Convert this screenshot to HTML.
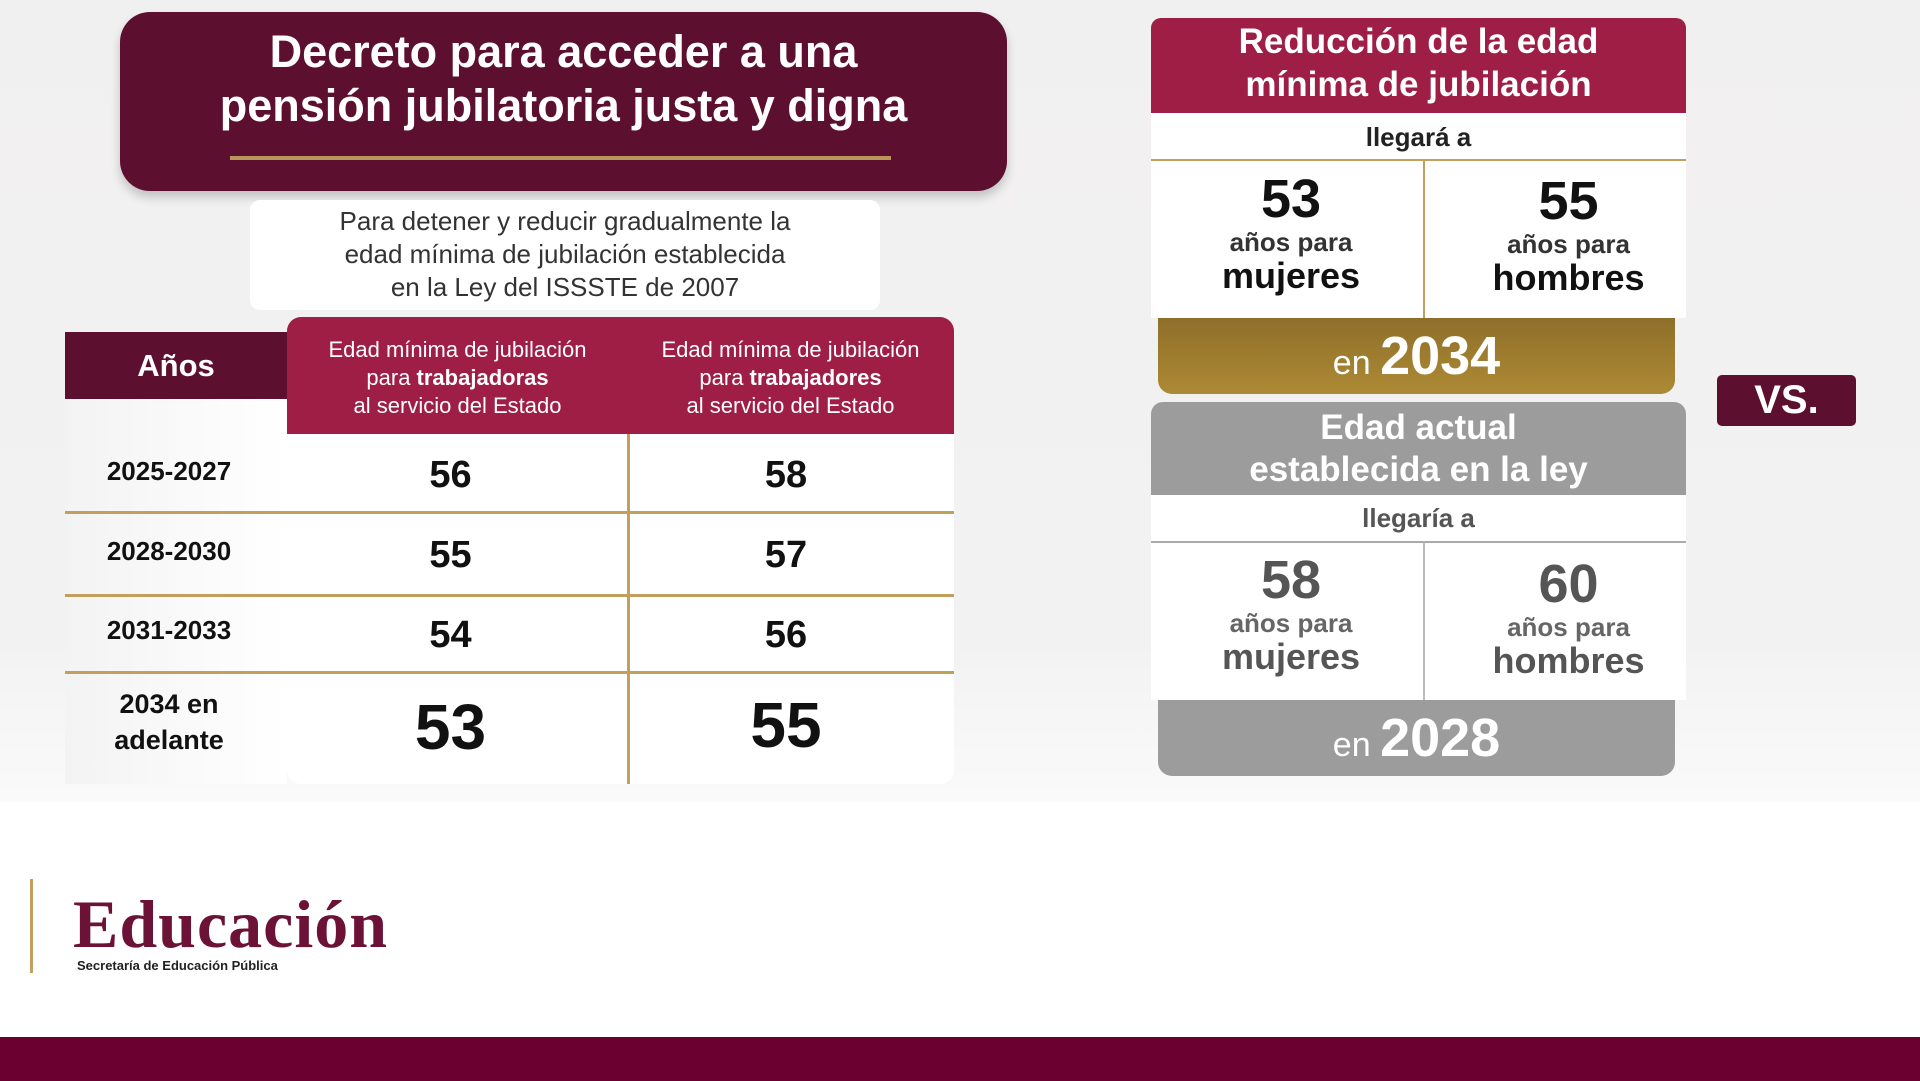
<!DOCTYPE html>
<html><head><meta charset="utf-8"><style>
*{margin:0;padding:0;box-sizing:border-box}
body{width:1920px;height:1081px;overflow:hidden;background:#fff;font-family:"Liberation Sans",sans-serif;position:relative}
.a{position:absolute}
.c{text-align:center}
.bg{left:0;top:0;width:1920px;height:802px;background:linear-gradient(#f1f0f0,#f3f2f2 80%,#fafafa)}
</style></head><body>
<div class="a bg"></div>
<div class="a" style="left:120px;top:12px;width:887px;height:179px;background:#5c0f2e;border-radius:30px;box-shadow:0 6px 10px rgba(0,0,0,.2)"></div>
<div class="a c" style="left:120px;top:25px;width:887px;color:#fff;font-weight:bold;font-size:45px;line-height:54px">Decreto para acceder a una<br>pensión jubilatoria justa y digna</div>
<div class="a" style="left:230px;top:156px;width:661px;height:4px;background:#b8955a"></div>
<div class="a" style="left:250px;top:200px;width:630px;height:110px;background:#fff;border-radius:10px"></div>
<div class="a c" style="left:250px;top:205px;width:630px;color:#333;font-size:26px;line-height:33px">Para detener y reducir gradualmente la<br>edad mínima de jubilación establecida<br>en la Ley del ISSSTE de 2007</div>
<div class="a" style="left:65px;top:399px;width:222px;height:385px;background:linear-gradient(90deg,#f3f3f3,#fff)"></div>
<div class="a" style="left:287px;top:434px;width:667px;height:350px;background:#fff;border-radius:0 0 14px 14px"></div>
<div class="a c" style="left:65px;top:332px;width:222px;height:67px;background:#5c0f2e;color:#fff;font-weight:bold;font-size:31px;line-height:67px">Años</div>
<div class="a" style="left:287px;top:317px;width:667px;height:117px;background:#9e1e46;border-radius:14px 14px 0 0"></div>
<div class="a c" style="left:287px;top:336px;width:341px;color:#fff;font-size:22px;line-height:28px">Edad mínima de jubilación<br>para <b>trabajadoras</b><br>al servicio del Estado</div>
<div class="a c" style="left:620px;top:336px;width:341px;color:#fff;font-size:22px;line-height:28px">Edad mínima de jubilación<br>para <b>trabajadores</b><br>al servicio del Estado</div>
<div class="a" style="left:627px;top:434px;width:3px;height:350px;background:#c2a05c"></div>
<div class="a" style="left:65px;top:511px;width:889px;height:3px;background:#c2a05c"></div>
<div class="a" style="left:65px;top:594px;width:889px;height:3px;background:#c2a05c"></div>
<div class="a" style="left:65px;top:671px;width:889px;height:3px;background:#c2a05c"></div>
<div style="font-weight:bold;color:#111">
<div class="a c" style="left:65px;top:456px;width:208px;font-size:26px">2025-2027</div>
<div class="a c" style="left:65px;top:536px;width:208px;font-size:26px">2028-2030</div>
<div class="a c" style="left:65px;top:615px;width:208px;font-size:26px">2031-2033</div>
<div class="a c" style="left:65px;top:686px;width:208px;font-size:27px;line-height:36px">2034 en<br>adelante</div>
<div class="a c" style="left:280px;top:454px;width:341px;font-size:38px">56</div>
<div class="a c" style="left:623px;top:454px;width:326px;font-size:38px">58</div>
<div class="a c" style="left:280px;top:534px;width:341px;font-size:38px">55</div>
<div class="a c" style="left:623px;top:534px;width:326px;font-size:38px">57</div>
<div class="a c" style="left:280px;top:614px;width:341px;font-size:38px">54</div>
<div class="a c" style="left:623px;top:614px;width:326px;font-size:38px">56</div>
<div class="a c" style="left:280px;top:690px;width:341px;font-size:64px">53</div>
<div class="a c" style="left:623px;top:688px;width:326px;font-size:64px">55</div>
</div>
<!-- right -->
<div class="a" style="left:1151px;top:113px;width:535px;height:205px;background:#fff"></div>
<div class="a c" style="left:1151px;top:18px;width:535px;height:95px;background:#9e1e46;border-radius:10px 10px 0 0;color:#fff;font-weight:bold;font-size:35px;line-height:43px;padding-top:2px">Reducción de la edad<br>mínima de jubilación</div>
<div class="a c" style="left:1151px;top:122px;width:535px;font-size:26px;font-weight:bold;color:#222">llegará a</div>
<div class="a" style="left:1151px;top:159px;width:535px;height:2px;background:#c2a05c"></div>
<div class="a" style="left:1423px;top:161px;width:2px;height:157px;background:#c2a05c"></div>
<div class="a c" style="left:1151px;top:170px;width:280px;font-weight:bold;color:#111"><div style="font-size:54px;line-height:58px">53</div><div style="font-size:26px;line-height:28px;color:#333">años para</div><div style="font-size:36px;line-height:40px">mujeres</div></div>
<div class="a c" style="left:1430px;top:172px;width:277px;font-weight:bold;color:#111"><div style="font-size:54px;line-height:58px">55</div><div style="font-size:26px;line-height:28px;color:#333">años para</div><div style="font-size:36px;line-height:40px">hombres</div></div>
<div class="a c" style="left:1158px;top:318px;width:517px;height:76px;background:linear-gradient(#8e6f2a,#ad8a35);border-radius:0 0 14px 14px;color:#fff;font-weight:bold;font-size:54px;line-height:76px"><span style="font-weight:normal;font-size:34px">en </span>2034</div>
<div class="a" style="left:1151px;top:495px;width:535px;height:205px;background:#fff"></div>
<div class="a c" style="left:1151px;top:402px;width:535px;height:93px;background:#9c9c9c;border-radius:12px 12px 0 0;color:#fff;font-weight:bold;font-size:35px;line-height:42px;padding-top:5px">Edad actual<br>establecida en la ley</div>
<div class="a c" style="left:1151px;top:503px;width:535px;font-size:26px;font-weight:bold;color:#555">llegaría a</div>
<div class="a" style="left:1151px;top:541px;width:535px;height:2px;background:#aaa"></div>
<div class="a" style="left:1423px;top:543px;width:2px;height:157px;background:#bbb"></div>
<div class="a c" style="left:1151px;top:551px;width:280px;font-weight:bold;color:#555"><div style="font-size:54px;line-height:58px">58</div><div style="font-size:26px;line-height:28px;color:#666">años para</div><div style="font-size:36px;line-height:40px">mujeres</div></div>
<div class="a c" style="left:1430px;top:555px;width:277px;font-weight:bold;color:#555"><div style="font-size:54px;line-height:58px">60</div><div style="font-size:26px;line-height:28px;color:#666">años para</div><div style="font-size:36px;line-height:40px">hombres</div></div>
<div class="a c" style="left:1158px;top:700px;width:517px;height:76px;background:#9c9c9c;border-radius:0 0 14px 14px;color:#fff;font-weight:bold;font-size:54px;line-height:76px"><span style="font-weight:normal;font-size:34px">en </span>2028</div>
<div class="a c" style="left:1717px;top:375px;width:139px;height:51px;background:#5c0f2e;border-radius:5px;color:#fff;font-weight:bold;font-size:40px;line-height:51px">VS.</div>
<!-- footer -->
<div class="a" style="left:30px;top:879px;width:3px;height:94px;background:#c2a05c"></div>
<div class="a" style="left:73px;top:885px;color:#6b1236;font-family:'Liberation Serif',serif;font-weight:bold;font-size:68px;letter-spacing:1px">Educación</div>
<div class="a" style="left:77px;top:958px;color:#222;font-weight:bold;font-size:13px">Secretaría de Educación Pública</div>
<div class="a" style="left:0;top:1037px;width:1920px;height:44px;background:#6b0030"></div>
</body></html>
